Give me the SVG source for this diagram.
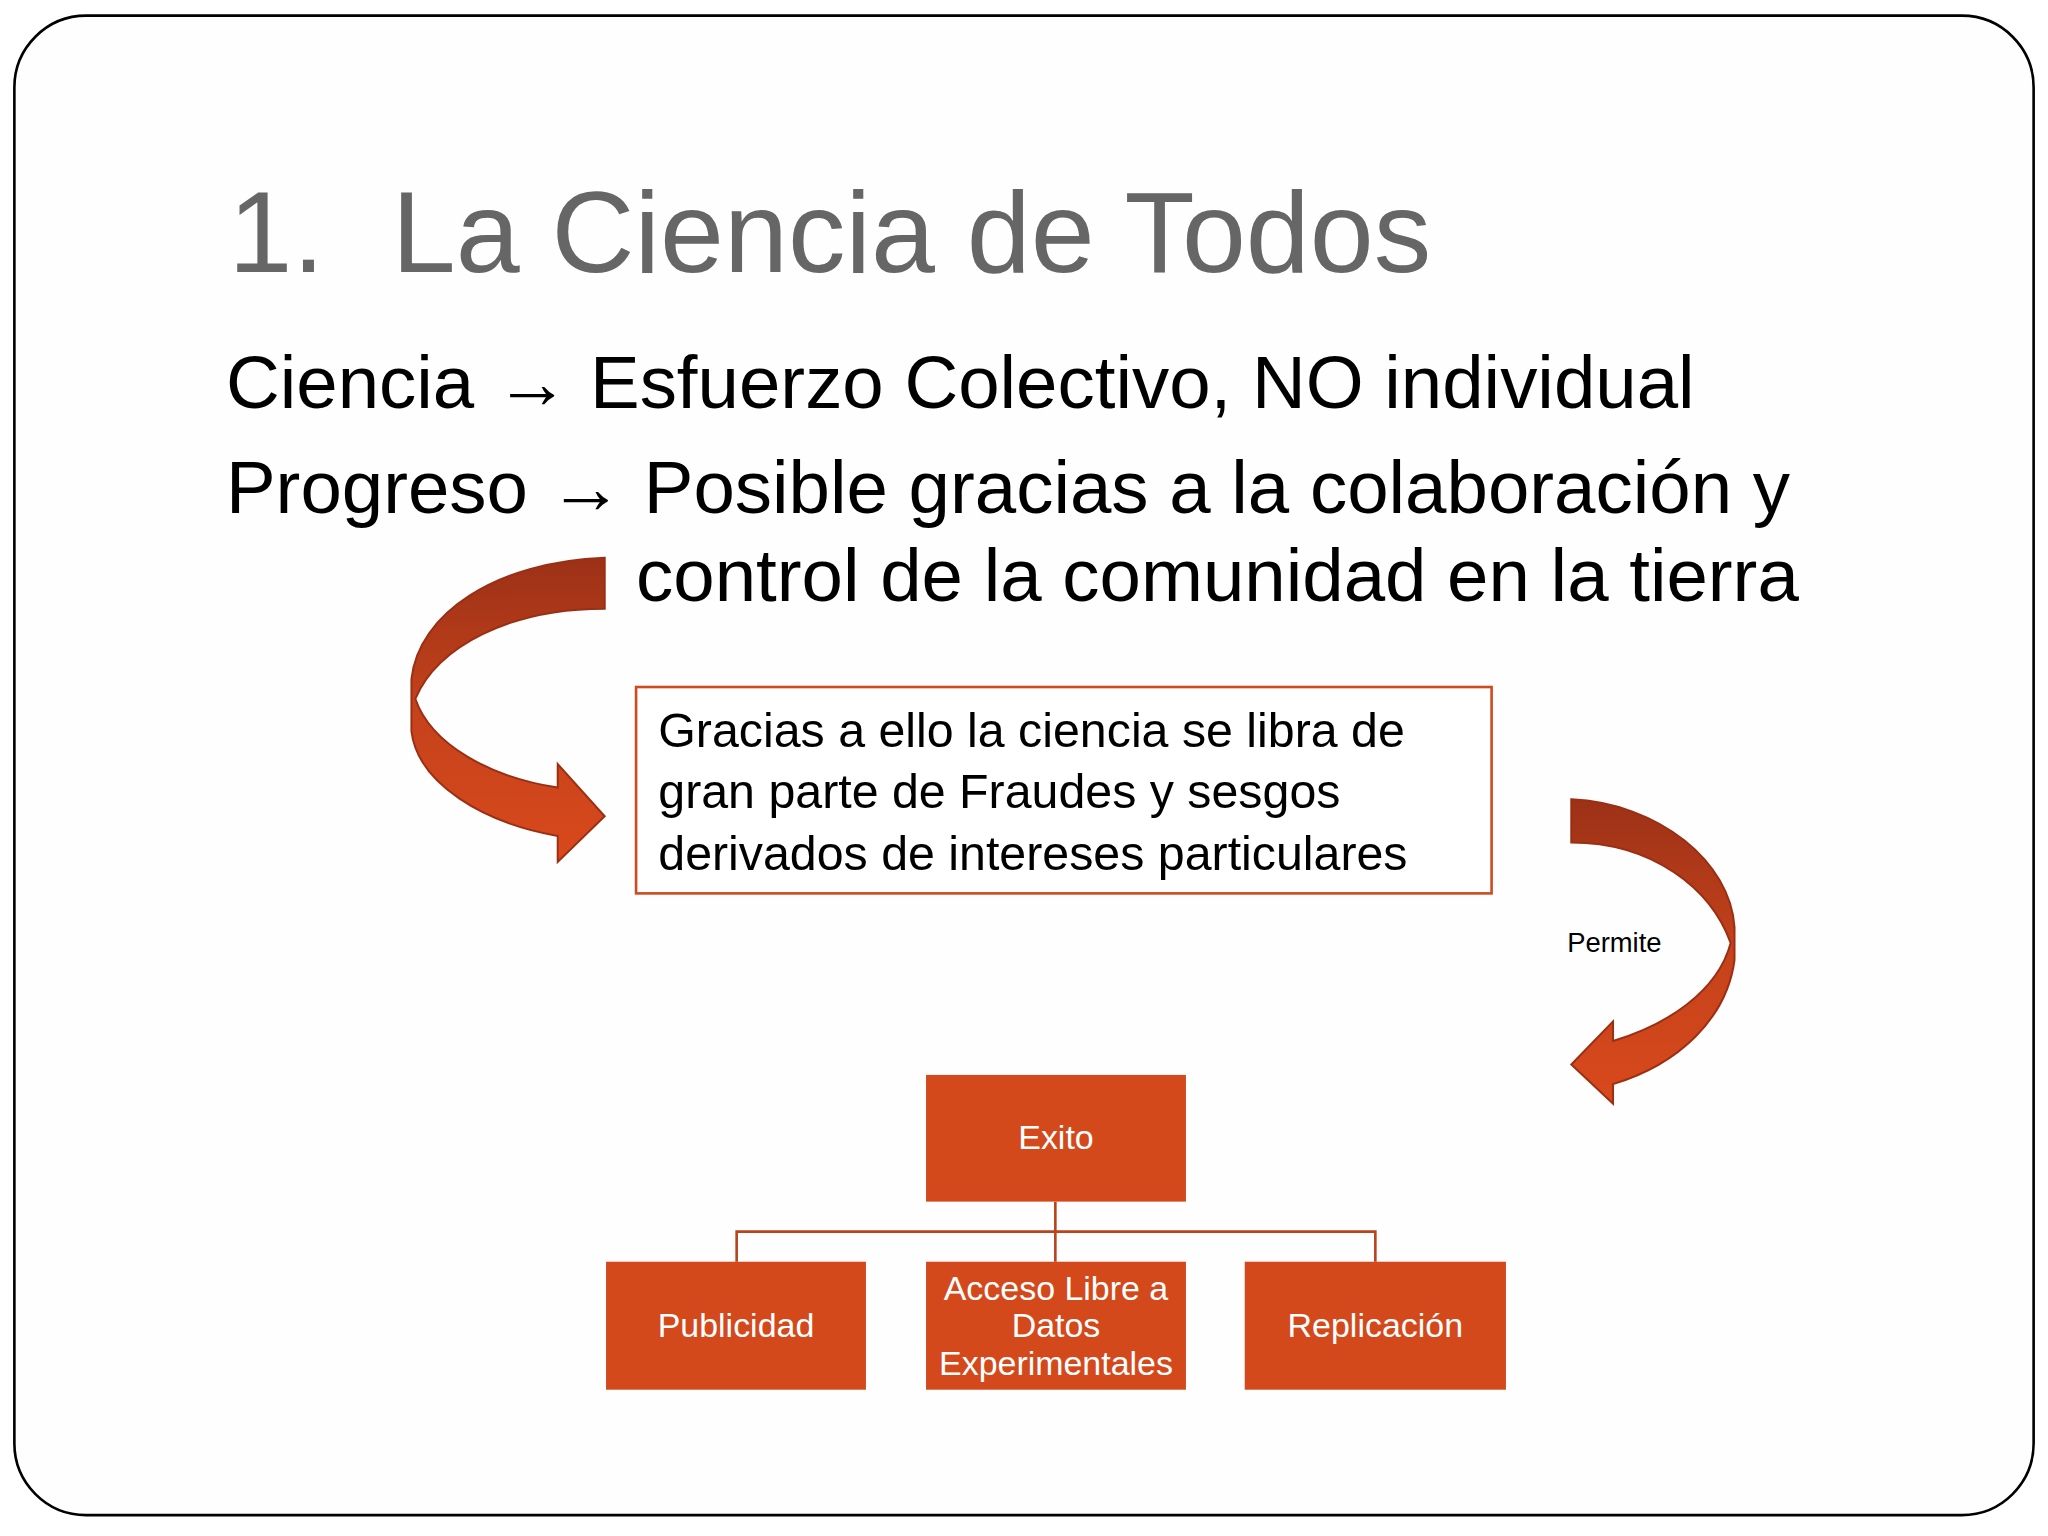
<svg xmlns="http://www.w3.org/2000/svg" width="2048" height="1536" viewBox="0 0 2048 1536">
<defs>
<linearGradient id="g1" x1="0" y1="0" x2="0" y2="1"><stop offset="0" stop-color="#9c3117"/><stop offset="0.5" stop-color="#c5421b"/><stop offset="1" stop-color="#d9491c"/></linearGradient>
<style>
.t{font-family:"Liberation Sans",Arial,sans-serif}
.box{fill:#d4491c}
.bt{font-family:"Liberation Sans",Arial,sans-serif;fill:#fff;font-size:26px;text-anchor:middle}
.arr{fill:url(#g1);stroke:#9a2f14;stroke-width:1.5}
.con{stroke:#b8431d;stroke-width:2;fill:none}
</style>
</defs>
<rect width="2048" height="1536" fill="#fff"/>
<g transform="scale(1.30612)">
<rect x="11" y="12" width="1546" height="1148" rx="55" fill="#fefefe" stroke="#000" stroke-width="2"/>
<text class="t" x="175" y="208" font-size="88" fill="#666">1.</text>
<text class="t" x="300" y="208" font-size="88" fill="#666">La Ciencia de Todos</text>
<text class="t" x="173" y="312" font-size="57" fill="#000">Ciencia → Esfuerzo Colectivo, NO individual</text>
<text class="t" x="173" y="393" font-size="57" fill="#000">Progreso → Posible gracias a la colaboración y</text>
<text class="t" x="487" y="460" font-size="57" fill="#000">control de la comunidad en la tierra</text>
<g id="arrow-left"><path class="arr" d="M463,427 C380,430 320,470 315,520 L315,560 C320,600 370,630 427,640 L427,660 L463,625 L427,585 L427,603 C375,595 330,570 318,535 C335,495 390,466 463,466 Z"/></g>
<g id="note"><rect x="487" y="526" width="655" height="158" fill="#fff" stroke="#d04a20" stroke-width="2"/>
<text class="t" x="504" y="572" font-size="37" fill="#000">Gracias a ello la ciencia se libra de</text>
<text class="t" x="504" y="619" font-size="37" fill="#000">gran parte de Fraudes y sesgos</text>
<text class="t" x="504" y="666" font-size="37" fill="#000">derivados de intereses particulares</text></g>
<g id="arrow-right"><path class="arr" d="M1203,612 C1270,615 1325,660 1328,710 L1328,735 C1322,780 1285,815 1235,830 L1235,845 L1203,815 L1235,782 L1235,797 C1275,785 1315,760 1325,722 C1310,680 1265,645 1203,645 Z"/>
<text class="t" x="1236" y="729" font-size="21" text-anchor="middle" fill="#000">Permite</text></g>
<g id="connectors"><path class="con" d="M808,920 V966 M564,966 V943 H1053 V966"/></g>
<g id="exito"><rect class="box" x="709" y="823" width="199" height="97"/><text class="bt" x="808.5" y="880">Exito</text></g>
<g id="publicidad"><rect class="box" x="464" y="966" width="199" height="98"/><text class="bt" x="563.5" y="1024">Publicidad</text></g>
<g id="acceso"><rect class="box" x="709" y="966" width="199" height="98"/><text class="bt" x="808.5" y="995">Acceso Libre a</text><text class="bt" x="808.5" y="1024">Datos</text><text class="bt" x="808.5" y="1053">Experimentales</text></g>
<g id="replicacion"><rect class="box" x="953" y="966" width="200" height="98"/><text class="bt" x="1053" y="1024">Replicación</text></g>
</g>
</svg>
